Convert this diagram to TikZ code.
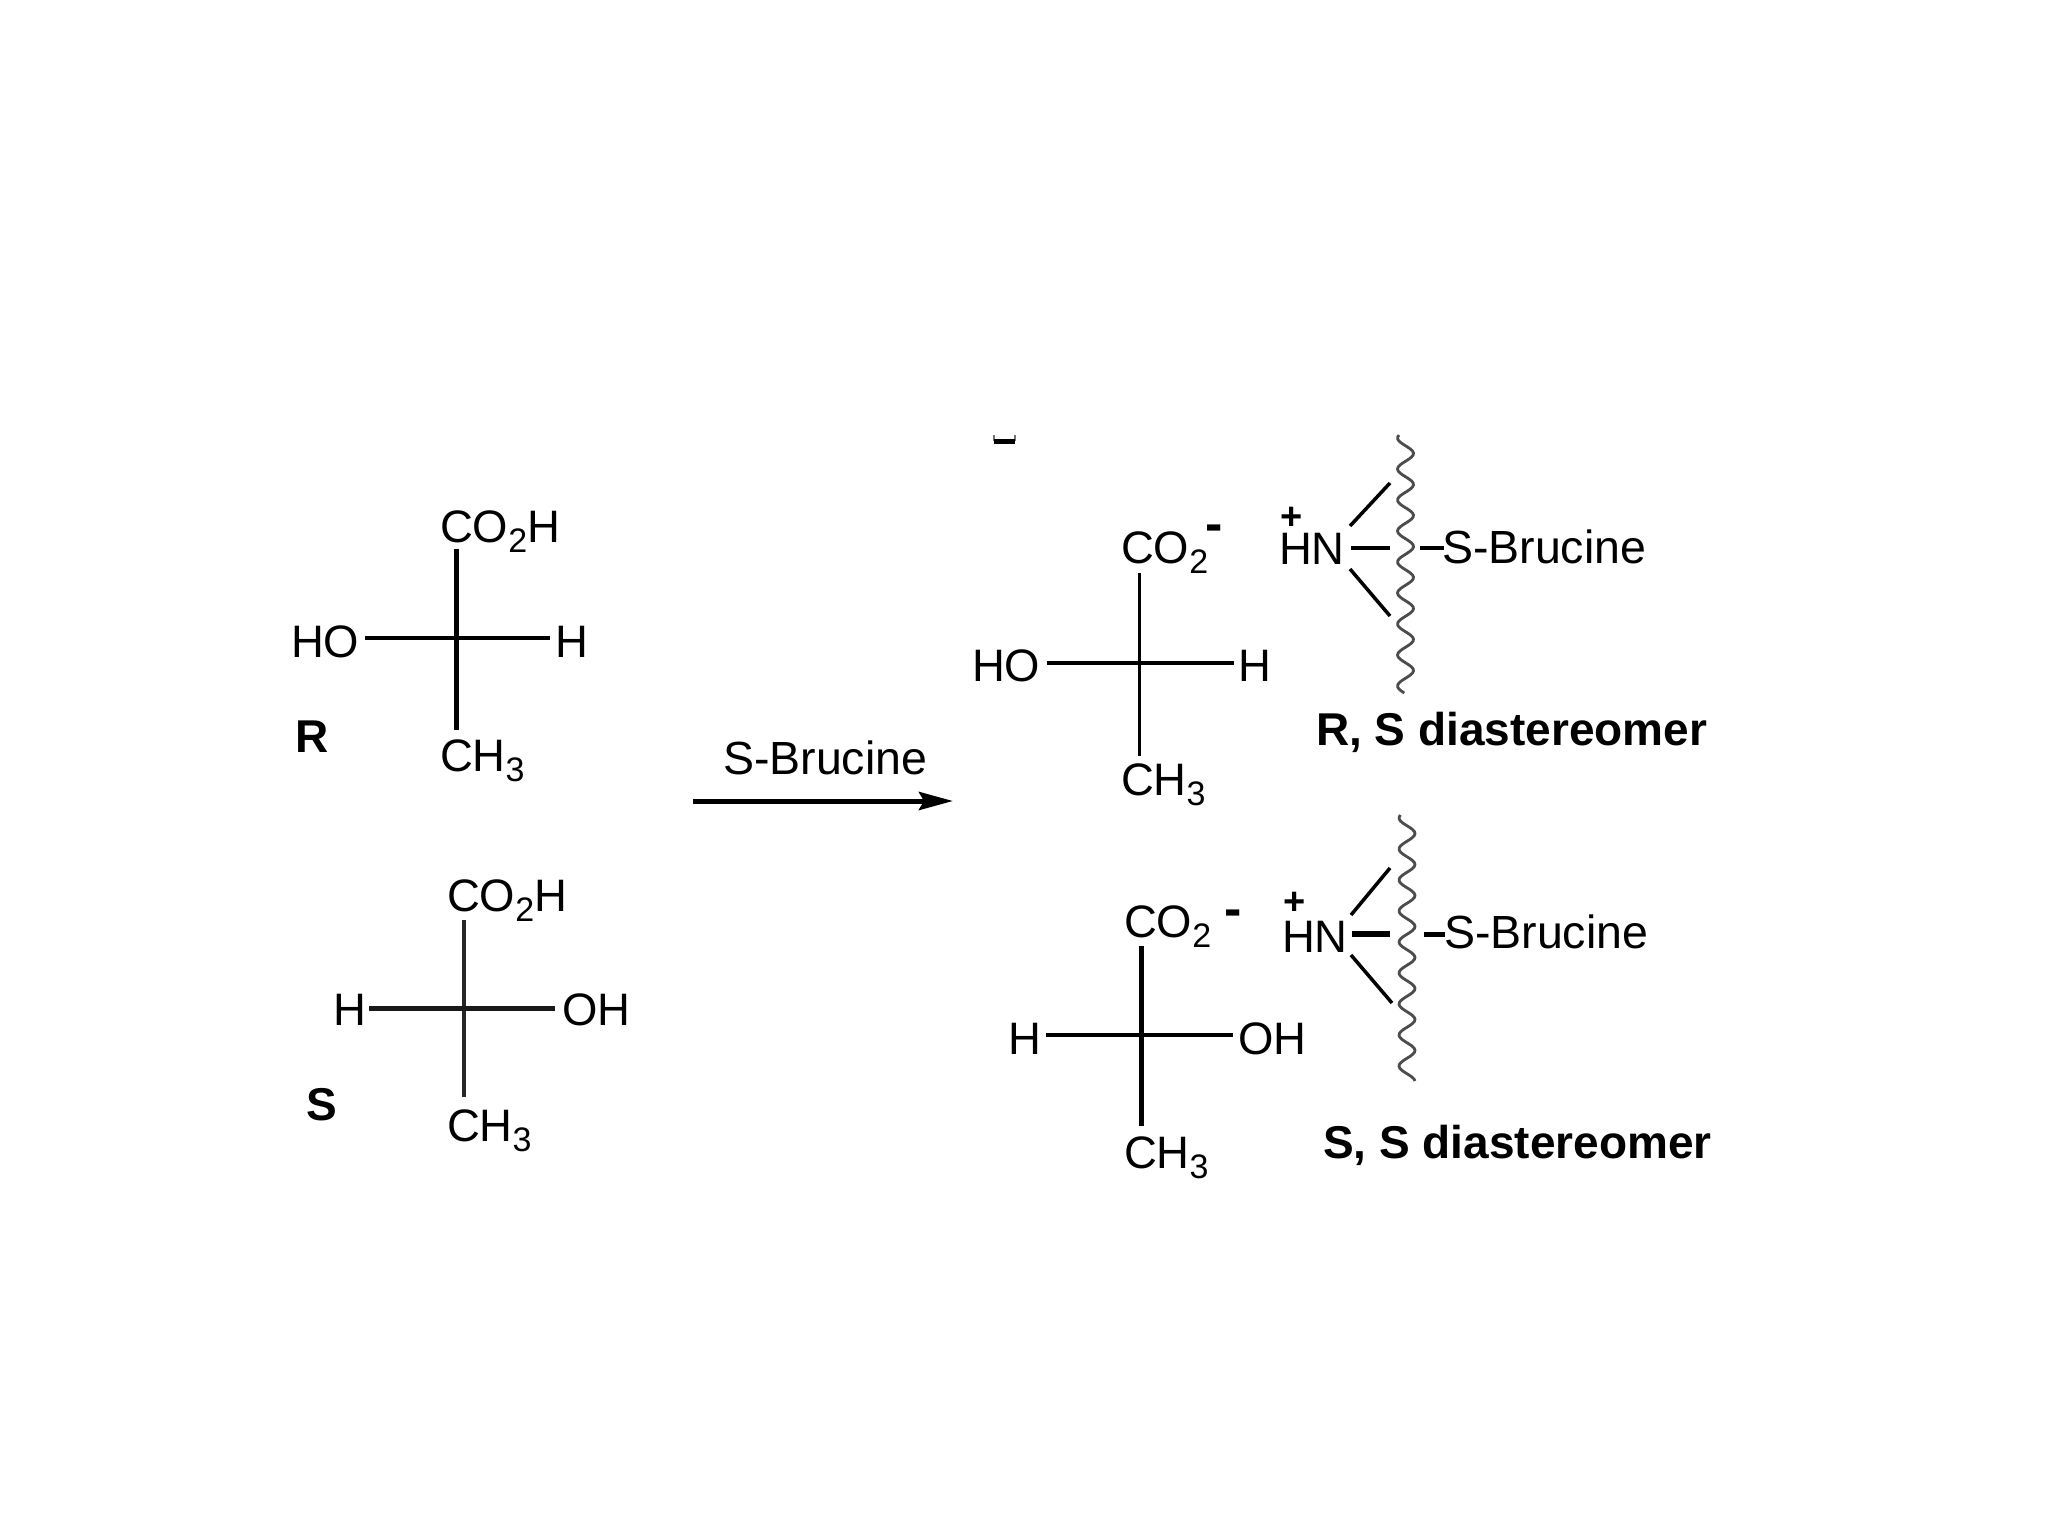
\documentclass[tikz,border=0pt]{standalone}
\usepackage{fontspec}
\setmainfont{Liberation Sans}
\usetikzlibrary{arrows.meta}
\newcommand{\subdig}[1]{\raisebox{-10pt}{\fontsize{34}{34}\selectfont #1}}
\tikzset{
  lbl/.style={anchor=base west,inner sep=0pt,outer sep=0pt,font=\fontsize{45.5}{50}\selectfont},
  brucine/.style={anchor=base west,inner sep=0pt,outer sep=0pt,font=\fontsize{46.5}{50}\selectfont},
  bold/.style={anchor=base west,inner sep=0pt,outer sep=0pt,font=\fontsize{46}{50}\selectfont\bfseries},
  minussign/.style={anchor=base west,inner sep=0pt,outer sep=0pt,font=\fontsize{52}{52}\selectfont\bfseries},
  plussign/.style={anchor=base west,inner sep=0pt,outer sep=0pt,font=\fontsize{38}{38}\selectfont\bfseries},
  wavy/.style={line width=2.8pt,black!70,line join=round},
}
\begin{document}
\begin{tikzpicture}[x=1pt,y=-1pt]
\useasboundingbox (0,0) rectangle (2048,1536);
\fill[white] (0,0) rectangle (2048,1536);

% --- R acid
\node[lbl] (aTopT) at (440,542) {CO\subdig{2}H};
\node[lbl] (aLeftT) at (291,657) {HO};
\node[lbl] (aRightT) at (555,657) {H};
\node[lbl] (aBotT) at (440,771) {CH\subdig{3}};
\node[bold] (aName) at (295,752) {R};
\coordinate (aC) at (456,638);
\coordinate (aT) at (456,549);
\coordinate (aB) at (456,730);
\coordinate (aL) at (365,638);
\coordinate (aR) at (550,638);
\draw[line width=5pt] (aT) -- (aB);
\draw[line width=3.5pt] (aL) -- (aC) -- (aR);

% --- S acid
\node[lbl] (bTopT) at (447,911) {CO\subdig{2}H};
\node[lbl] (bLeftT) at (333,1025) {H};
\node[lbl] (bRightT) at (562,1025) {OH};
\node[lbl] (bBotT) at (447,1141) {CH\subdig{3}};
\node[bold] (bName) at (306,1120) {S};
\coordinate (bC) at (464,1008);
\coordinate (bT) at (464,920);
\coordinate (bB) at (464,1097);
\coordinate (bL) at (369,1008);
\coordinate (bR) at (555,1008);
\draw[line width=4.5pt,black!85] (bT) -- (bB);
\draw[line width=5pt,black!90] (bL) -- (bC) -- (bR);

% --- reaction arrow
\node[brucine] (rxn) at (723,774) {S-Brucine};
\coordinate (arS) at (693,801);
\coordinate (arE) at (953,801);
\draw[line width=5pt,-{Stealth[length=34pt,width=18pt,inset=5pt]}] (arS) -- (arE);

% --- small mark
\coordinate (m1) at (994,435);
\coordinate (m2) at (994,441);
\coordinate (m3) at (1015,441);
\coordinate (m4) at (1015,435);
\draw[line width=1.5pt,black!55] (m1) -- (m2) (m3) -- (m4);
\draw[line width=5pt] (m2) -- (m3);

% --- R,S salt: acid part
\node[lbl] (cTopT) at (1121,563) {CO\subdig{2}};
\node[minussign] (cMinus) at (1205,541) {-};
\node[lbl] (cLeftT) at (972,681) {HO};
\node[lbl] (cRightT) at (1238,681) {H};
\node[lbl] (cBotT) at (1121,795) {CH\subdig{3}};
\coordinate (cC) at (1139.5,663);
\coordinate (cT) at (1139.5,573);
\coordinate (cB) at (1139.5,756);
\coordinate (cL) at (1047,663);
\coordinate (cR) at (1234,663);
\draw[line width=3pt] (cT) -- (cB);
\draw[line width=4pt] (cL) -- (cC) -- (cR);

% --- R,S salt: brucine part
\node[plussign] (cPlus) at (1280,529) {+};
\node[lbl] (cHN) at (1279,564) {HN};
\node[brucine] (cBru) at (1442,563) {S-Brucine};
\node[bold] (cName) at (1316,745) {R, S diastereomer};
\coordinate (cNa) at (1350,526);
\coordinate (cNb) at (1390,483);
\coordinate (cNc) at (1351,548);
\coordinate (cNd) at (1390,548);
\coordinate (cNe) at (1350,569);
\coordinate (cNf) at (1390,616);
\coordinate (cSa) at (1420,548);
\coordinate (cSb) at (1444,548);
\draw[line width=3.5pt] (cNa) -- (cNb);
\draw[line width=3.5pt] (cNc) -- (cNd);
\draw[line width=3.5pt] (cNe) -- (cNf);
\draw[line width=3.5pt] (cSa) -- (cSb);
\draw[wavy] plot[domain=435:693,samples=130] ({1405.5-8*cos(11.613*(\x-438))},\x);

% --- S,S salt: acid part
\node[lbl] (dTopT) at (1124,937) {CO\subdig{2}};
\node[minussign] (dMinus) at (1224,926) {-};
\node[lbl] (dLeftT) at (1008,1054) {H};
\node[lbl] (dRightT) at (1238,1054) {OH};
\node[lbl] (dBotT) at (1124,1168) {CH\subdig{3}};
\coordinate (dC) at (1141,1035);
\coordinate (dT) at (1141,946);
\coordinate (dB) at (1141,1126);
\coordinate (dL) at (1046,1035);
\coordinate (dR) at (1233,1035);
\draw[line width=5pt] (dT) -- (dB);
\draw[line width=4pt] (dL) -- (dC) -- (dR);

% --- S,S salt: brucine part
\node[plussign] (dPlus) at (1283,914) {+};
\node[lbl] (dHN) at (1282,952) {HN};
\node[brucine] (dBru) at (1444,948) {S-Brucine};
\node[bold] (dName) at (1323,1158) {S, S diastereomer};
\coordinate (dNa) at (1351,915);
\coordinate (dNb) at (1390,868);
\coordinate (dNc) at (1352,934);
\coordinate (dNd) at (1390,934);
\coordinate (dNe) at (1351,955);
\coordinate (dNf) at (1392,1003);
\coordinate (dSa) at (1424,934);
\coordinate (dSb) at (1445,934);
\draw[line width=3.5pt] (dNa) -- (dNb);
\draw[line width=5.5pt] (dNc) -- (dNd);
\draw[line width=3.5pt] (dNe) -- (dNf);
\draw[line width=5pt] (dSa) -- (dSb);
\draw[wavy] plot[domain=815:1081,samples=130] ({1407-8*cos(11.613*(\x-818))},\x);
\end{tikzpicture}
\end{document}
